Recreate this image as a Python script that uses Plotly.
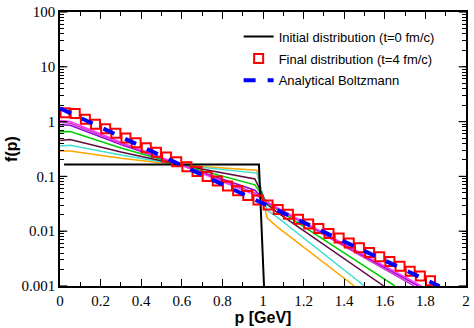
import plotly.graph_objects as go

# Initial distribution (step)
p_init = [0.02, 0.98, 1.005]
f_init = [0.165, 0.165, 0.001]

# Intermediate time snapshots (p, f)
snap_colors = ["#FFA500", "#40E0D0", "#5C0A3C", "#00CC00", "#9400D3", "#CC33CC", "#FF33FF"]
snap_p = [
    [0, 0.05, 0.3, 0.6, 0.97, 1.02, 1.07, 1.45],
    [0, 0.05, 0.3, 0.6, 0.97, 1.02, 1.07, 1.50],
    [0, 0.05, 0.3, 0.6, 0.96, 1.02, 1.07, 1.595],
    [0, 0.05, 0.3, 0.6, 0.96, 1.02, 1.07, 1.65],
    [0, 0.05, 0.3, 0.6, 0.96, 1.02, 1.07, 1.765],
    [0, 0.05, 0.3, 0.6, 0.96, 1.02, 1.07, 1.745],
    [0, 0.05, 0.3, 0.6, 0.96, 1.02, 1.07, 1.78],
]
snap_f = [
    [0.29, 0.29, 0.215, 0.16, 0.13, 0.0175, 0.012, 0.001],
    [0.36, 0.37, 0.245, 0.16, 0.115, 0.024, 0.018, 0.001],
    [0.45, 0.47, 0.28, 0.16, 0.09, 0.031, 0.022, 0.001],
    [0.65, 0.66, 0.33, 0.16, 0.07, 0.033, 0.025, 0.001],
    [0.88, 0.86, 0.38, 0.16, 0.056, 0.034, 0.026, 0.001],
    [0.97, 0.93, 0.40, 0.16, 0.05, 0.034, 0.026, 0.001],
    [1.05, 1.00, 0.42, 0.16, 0.046, 0.034, 0.027, 0.001],
]

# Final distribution (t=4 fm/c)
p_final = [0.025, 0.075, 0.125, 0.175, 0.225, 0.275, 0.325, 0.375, 0.425, 0.475,
           0.525, 0.575, 0.625, 0.675, 0.725, 0.775, 0.825, 0.875, 0.925, 0.975,
           1.025, 1.075, 1.125, 1.175, 1.225, 1.275, 1.325, 1.375, 1.425, 1.475,
           1.525, 1.575, 1.625, 1.675, 1.725, 1.775, 1.825]
f_final = [1.45, 1.40, 1.10, 0.89, 0.74, 0.61, 0.50, 0.41, 0.335, 0.275,
           0.225, 0.185, 0.150, 0.123, 0.100, 0.082, 0.067, 0.055, 0.045, 0.037,
           0.0302, 0.0248, 0.0203, 0.0166, 0.0136, 0.0112, 0.0091, 0.0075, 0.0061, 0.0050,
           0.0041, 0.0034, 0.0028, 0.0023, 0.00185, 0.00152, 0.00125]

# Analytical Boltzmann
p_boltz = [0.0, 0.25, 0.5, 0.75, 1.0, 1.25, 1.5, 1.75, 1.87]
f_boltz = [1.75, 0.644, 0.237, 0.0871, 0.032, 0.0118, 0.00434, 0.0016, 0.00099]

# tick labels
x_ticks = [0, 0.2, 0.4, 0.6, 0.8, 1, 1.2, 1.4, 1.6, 1.8, 2]
x_ticktext = ["0", "0.2", "0.4", "0.6", "0.8", "1", "1.2", "1.4", "1.6", "1.8", "2"]
y_ticks = [0.001, 0.01, 0.1, 1, 10, 100]
y_ticktext = ["0.001", "0.01", "0.1", "1", "10", "100"]

# all y ticks (decades labelled, 2..9 minors unlabelled)
y_all_vals = []
y_all_text = []
for d, t in zip(y_ticks, y_ticktext):
    y_all_vals.append(d)
    y_all_text.append(t)
    if d < 100:
        for m in range(2, 10):
            y_all_vals.append(m * d)
            y_all_text.append("")

fig = go.Figure()

for p, f, c in zip(snap_p, snap_f, snap_colors):
    fig.add_trace(go.Scatter(x=p, y=f, mode="lines", line=dict(color=c, width=1.5),
                             showlegend=False, hoverinfo="skip"))

fig.add_trace(go.Scatter(x=p_init, y=f_init, mode="lines", line=dict(color="black", width=2),
                         name="Initial distribution (t=0 fm/c)", legendrank=1, legendgroup="a"))
fig.add_trace(go.Scatter(x=p_final, y=f_final, mode="markers",
                         marker=dict(symbol="square-open", size=9, color="red", line=dict(width=2)),
                         name="Final distribution (t=4 fm/c)", legendrank=2, legendgroup="b"))
fig.add_trace(go.Scatter(x=p_boltz, y=f_boltz, mode="lines",
                         line=dict(color="blue", width=4, dash="dash"),
                         name="Analytical Boltzmann", legendrank=3, legendgroup="c"))

axis_common = dict(showline=True, linecolor="black", linewidth=1.5, mirror="allticks",
                   ticks="inside", tickcolor="black", showgrid=False, zeroline=False,
                   ticklabeloverflow="allow",
                   tickfont=dict(family="Liberation Serif", size=15, color="black"))

fig.update_xaxes(range=[0, 2], tickvals=x_ticks, ticktext=x_ticktext,
                 ticklen=7, tickwidth=1.2,
                 minor=dict(ticks="inside", dtick=0.1, ticklen=4, tickcolor="black", showgrid=False),
                 title=dict(text="<b>p [GeV]</b>", font=dict(family="Liberation Sans", size=16, color="black"),
                            standoff=4),
                 **axis_common)
fig.update_yaxes(type="log", range=[-3, 2],
                 tickmode="array", tickvals=y_all_vals, ticktext=y_all_text,
                 ticklen=4, tickwidth=1,
                 title=dict(text="<b>f(p)</b>", font=dict(family="Liberation Sans", size=16, color="black"),
                            standoff=0),
                 **axis_common)

# longer major ticks on the log axis (left and right)
for d in y_ticks:
    fig.add_shape(type="line", xref="paper", yref="y", x0=0, x1=0.018, y0=d, y1=d,
                  line=dict(color="black", width=1.2))
    fig.add_shape(type="line", xref="paper", yref="y", x0=1, x1=1 - 0.018, y0=d, y1=d,
                  line=dict(color="black", width=1.2))

fig.update_layout(width=474, height=328, margin=dict(l=60, r=4, t=5, b=37),
                  plot_bgcolor="white", paper_bgcolor="white",
                  legend=dict(x=0.44, y=0.965, xanchor="left", yanchor="top",
                              bgcolor="rgba(0,0,0,0)", tracegroupgap=2,
                              font=dict(family="Liberation Sans", size=13, color="black")),
                  showlegend=True)

fig.write_html("out.html")
